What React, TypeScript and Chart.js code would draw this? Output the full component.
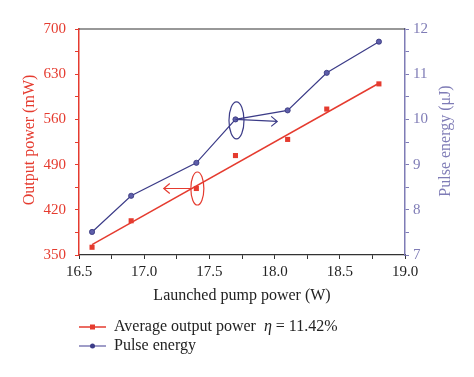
import React, { useEffect, useRef } from "react";
import { Chart, registerables } from "chart.js";

Chart.register(...registerables);

const pumpPower = [16.6, 16.9, 17.4, 17.7, 18.1, 18.4, 18.8];
const outputPower = [362, 403, 453, 504, 529, 576, 615];
const pulseEnergy = [7.51, 8.31, 9.04, 10.0, 10.2, 11.03, 11.72];
const fitX = [16.6, 18.8];
const fitY = [366, 616];

const RED = "#e53b2f";
const BLUE = "#3c3c88";
const LAV = "#7f7cb6";
const DARK = "#333333";
const FONT = '"Liberation Serif", "DejaVu Serif", serif';

const overlay = {
  id: "overlay",
  afterDraw(chart: any) {
    const { ctx, chartArea, scales } = chart;
    const x = scales.x, y = scales.y, y1 = scales.y1;
    ctx.save();
    // top border
    ctx.strokeStyle = DARK;
    ctx.lineWidth = 1.2;
    ctx.beginPath();
    ctx.moveTo(chartArea.left, chartArea.top);
    ctx.lineTo(chartArea.right, chartArea.top);
    ctx.stroke();

    // titles
    ctx.font = `16px ${FONT}`;
    ctx.textAlign = "center";
    ctx.textBaseline = "middle";
    ctx.fillStyle = "#222";
    ctx.fillText("Launched pump power (W)", (chartArea.left + chartArea.right) / 2, 296);
    ctx.save();
    ctx.translate(30, (chartArea.top + chartArea.bottom) / 2 - 2);
    ctx.rotate(-Math.PI / 2);
    ctx.fillStyle = RED;
    ctx.fillText("Output power (mW)", 0, 0);
    ctx.restore();
    ctx.save();
    ctx.translate(446, 141);
    ctx.rotate(-Math.PI / 2);
    ctx.fillStyle = LAV;
    ctx.fillText("Pulse energy (\u03bcJ)", 0, 0);
    ctx.restore();

    // annotations
    const rx = x.getPixelForValue(pumpPower[2]);
    const ry = y.getPixelForValue(outputPower[2]);
    ctx.strokeStyle = RED;
    ctx.lineWidth = 1.2;
    ctx.beginPath();
    ctx.ellipse(rx + 1, ry, 6.5, 16.5, 0, 0, Math.PI * 2);
    ctx.stroke();
    const ax = x.getPixelForValue(17.15);
    ctx.beginPath();
    ctx.moveTo(rx - 5.5, ry);
    ctx.lineTo(ax, ry);
    ctx.moveTo(ax + 6, ry - 5);
    ctx.lineTo(ax, ry);
    ctx.lineTo(ax + 6, ry + 5);
    ctx.stroke();

    const bx = x.getPixelForValue(pumpPower[3]);
    const by = y1.getPixelForValue(pulseEnergy[3]);
    ctx.strokeStyle = BLUE;
    ctx.beginPath();
    ctx.ellipse(bx + 1, by + 1, 7.5, 18.5, 0, 0, Math.PI * 2);
    ctx.stroke();
    const bx2 = x.getPixelForValue(18.02);
    ctx.beginPath();
    ctx.moveTo(bx, by);
    ctx.lineTo(bx2, by + 2);
    ctx.moveTo(bx2 - 6, by - 3);
    ctx.lineTo(bx2, by + 2);
    ctx.lineTo(bx2 - 6, by + 7);
    ctx.stroke();

    // legend
    const lx0 = 79, lx1 = 106, tx = 114;
    const r1 = 327, r2 = 346;
    ctx.lineWidth = 1.5;
    ctx.strokeStyle = RED;
    ctx.beginPath();
    ctx.moveTo(lx0, r1);
    ctx.lineTo(lx1, r1);
    ctx.stroke();
    ctx.fillStyle = RED;
    ctx.fillRect((lx0 + lx1) / 2 - 2.5, r1 - 2.5, 5, 5);
    ctx.strokeStyle = LAV;
    ctx.beginPath();
    ctx.moveTo(lx0, r2);
    ctx.lineTo(lx1, r2);
    ctx.stroke();
    ctx.fillStyle = BLUE;
    ctx.beginPath();
    ctx.arc((lx0 + lx1) / 2, r2, 2.5, 0, Math.PI * 2);
    ctx.fill();

    ctx.fillStyle = "#222";
    ctx.textAlign = "left";
    ctx.font = `16px ${FONT}`;
    let cx = tx;
    const p1 = "Average output power  ";
    ctx.fillText(p1, cx, r1);
    cx += ctx.measureText(p1).width;
    ctx.font = `italic 16px ${FONT}`;
    ctx.fillText("\u03b7", cx, r1);
    cx += ctx.measureText("\u03b7").width;
    ctx.font = `16px ${FONT}`;
    ctx.fillText(" = 11.42%", cx, r1);
    ctx.fillText("Pulse energy", tx, r2);
    ctx.restore();
  },
};

export default function App() {
  const ref = useRef<HTMLCanvasElement | null>(null);
  useEffect(() => {
    if (!ref.current) return;
    const chart = new Chart(ref.current, {
      type: "scatter",
      data: {
        datasets: [
          {
            label: "Average output power",
            data: pumpPower.map((v, i) => ({ x: v, y: outputPower[i] })),
            yAxisID: "y",
            showLine: false,
            pointStyle: "rect",
            pointRadius: 3.6,
            backgroundColor: RED,
            borderColor: RED,
            borderWidth: 0,
          },
          {
            label: "fit",
            data: fitX.map((v, i) => ({ x: v, y: fitY[i] })),
            yAxisID: "y",
            showLine: true,
            pointRadius: 0,
            borderColor: RED,
            borderWidth: 1.5,
          },
          {
            label: "Pulse energy",
            data: pumpPower.map((v, i) => ({ x: v, y: pulseEnergy[i] })),
            yAxisID: "y1",
            showLine: true,
            pointStyle: "circle",
            pointRadius: 2.6,
            backgroundColor: "#5e5eaa",
            borderColor: BLUE,
            pointBorderColor: "#34347a",
            pointBorderWidth: 0.8,
            borderWidth: 1.2,
          },
        ],
      },
      options: {
        animation: false,
        responsive: false,
        devicePixelRatio: 1,
        layout: { padding: { top: 29, left: 0, right: 0, bottom: 0 } },
        plugins: { legend: { display: false }, tooltip: { enabled: false } },
        scales: {
          x: {
            type: "linear",
            min: 16.5,
            max: 19,
            afterFit: (s: any) => { s.height = 122; },
            ticks: {
              stepSize: 0.25,
              autoSkip: false,
              maxRotation: 0,
              padding: 4,
              color: "#222",
              font: { family: FONT, size: 15 },
              callback: (v: any) => (Math.round(Number(v) * 4) % 2 === 0 ? Number(v).toFixed(1) : ""),
            },
            grid: { drawOnChartArea: false, drawTicks: true, tickLength: 4, color: DARK },
            border: { display: true, color: DARK, width: 1.2 },
          },
          y: {
            type: "linear",
            position: "left",
            min: 350,
            max: 700,
            afterFit: (s: any) => { s.width = 79; },
            ticks: {
              stepSize: 35,
              autoSkip: false,
              padding: 9,
              color: RED,
              font: { family: FONT, size: 15 },
              callback: (v: any) => (Math.round(Number(v)) % 70 === 0 ? String(v) : ""),
            },
            grid: { drawOnChartArea: false, drawTicks: true, tickLength: 4, color: RED },
            border: { display: true, color: RED, width: 1.5 },
          },
          y1: {
            type: "linear",
            position: "right",
            min: 7,
            max: 12,
            afterFit: (s: any) => { s.width = 69; },
            ticks: {
              stepSize: 0.5,
              autoSkip: false,
              padding: 4,
              color: LAV,
              font: { family: FONT, size: 15 },
              callback: (v: any) => (Number.isInteger(Number(v)) ? String(v) : ""),
            },
            grid: { drawOnChartArea: false, drawTicks: true, tickLength: 4, color: LAV },
            border: { display: true, color: LAV, width: 1.5 },
          },
        },
      },
      plugins: [overlay],
    });
    return () => chart.destroy();
  }, []);
  return (
    <div style={{ position: "absolute", left: 0, top: 0, width: 474, height: 377, background: "#fff" }}>
      <canvas ref={ref} width={474} height={377} />
    </div>
  );
}
